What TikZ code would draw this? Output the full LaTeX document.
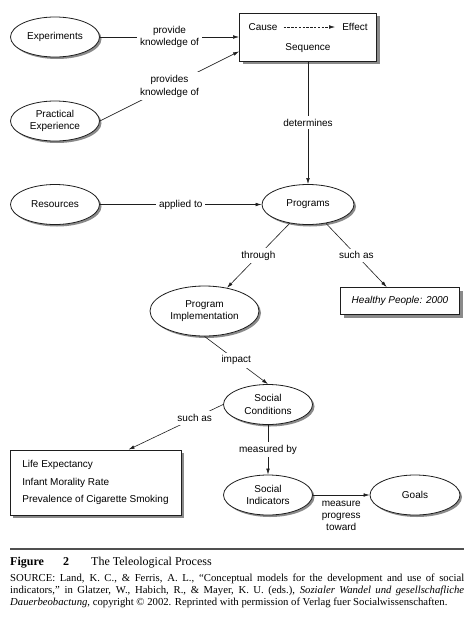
\documentclass[tikz,border=0pt]{standalone}
\usepackage{fontspec}
\setmainfont{Liberation Serif}
\setsansfont{Liberation Sans}
\usepackage{tikz}
\usetikzlibrary{arrows.meta, positioning, shapes.geometric, shadows}
\definecolor{CLine}{HTML}{1E1E1E}
\definecolor{CShadow}{HTML}{8A8A8A}
\definecolor{CRule}{HTML}{505050}

\begin{document}
\begin{tikzpicture}[
    x=1pt, y=-1pt,
    % Reusable styles for nodes and links
    concept/.style={ellipse, draw=CLine, line width=0.8pt, fill=white, inner sep=0pt,
        minimum width=89pt, minimum height=40pt, align=center,
        font=\sffamily\fontsize{10}{12.5}\selectfont,
        drop shadow={shadow xshift=2pt, shadow yshift=-2pt, fill=CShadow, opacity=1}},
    concept box/.style={rectangle, draw=CLine, line width=0.8pt, fill=white, inner sep=0pt,
        font=\sffamily\fontsize{10}{12.5}\selectfont,
        drop shadow={shadow xshift=3pt, shadow yshift=-3pt, fill=CShadow, opacity=1}},
    box text/.style={inner sep=1pt, font=\sffamily\fontsize{10}{12.5}\selectfont},
    link/.style={draw=CLine, line width=0.6pt, -{Latex[length=6pt, width=3.6pt]}},
    link label/.style={fill=white, inner sep=3pt, align=center,
        font=\sffamily\fontsize{10}{12.5}\selectfont}
]
    \useasboundingbox (0,0) rectangle (474,619);

    % -------------------------
    % Top: knowledge of the sequence
    % -------------------------
    \node[concept] (experiments) at (55,37) {Experiments};
    \node[concept] (practical) at (55,121) {Practical\\Experience};
    \node[concept box, minimum width=137pt, minimum height=48pt] (causebox) at (308,37) {};
    \node[box text] (cause) at (263,27) {Cause};
    \node[box text] (effect) at (355,27) {Effect};
    \node[box text, anchor=base] (sequence) at (308,50) {Sequence};
    \draw[link, dash pattern=on 2.4pt off 1.4pt, shorten <=5pt, shorten >=6pt] (cause) -- (effect);

    \draw[link] (experiments) -- node[link label] {provide\\knowledge of} (causebox);
    \draw[link] (practical.east) -- node[link label] {provides\\knowledge of} ([yshift=10pt]causebox.south west);

    % -------------------------
    % Middle: programs
    % -------------------------
    \node[concept] (resources) at (55,204.5) {Resources};
    \node[concept, minimum width=92pt] (programs) at (308,204.5) {Programs};
    \node[concept, minimum width=109pt, minimum height=50pt] (implementation) at (204.5,311) {Program\\Implementation};
    \node[concept box, minimum width=119pt, minimum height=27pt, font=\sffamily\itshape\fontsize{10}{12.5}\selectfont] (healthy) at (400,301) {Healthy People: 2000};

    \draw[link] (causebox) -- node[link label] {determines} (programs);
    \draw[link] (resources) -- node[link label] {applied to} (programs);
    \draw[link] (programs) -- node[link label] {through} (implementation);
    \draw[link] (programs) -- node[link label] {such as} (healthy);

    % -------------------------
    % Bottom: conditions and indicators
    % -------------------------
    \node[concept] (conditions) at (268,404.5) {Social\\Conditions};
    \node[concept box, minimum width=171pt, minimum height=65pt, align=left,
        font=\sffamily\fontsize{10}{17.5}\selectfont] (examples) at (95.5,482.5)
        {Life Expectancy\\Infant Morality Rate\\Prevalence of Cigarette Smoking};
    \node[concept] (indicators) at (268,495) {Social\\Indicators};
    \node[concept, minimum width=90pt] (goals) at (415,495) {Goals};

    \draw[link] (implementation.south) -- node[link label] {impact} (conditions.north);
    \draw[link] (conditions.west) -- node[link label, pos=0.3] {such as} ([xshift=33pt]examples.north);
    \draw[link] (conditions) -- node[link label] {measured by} (indicators);
    \draw[link] (indicators) -- node[below=5pt, align=center, inner sep=1pt,
        font=\sffamily\fontsize{10}{12}\selectfont] {measure\\progress\\toward} (goals);

    % -------------------------
    % Caption
    % -------------------------
    \draw[CRule, line width=1.2pt] (10,549) -- (464,549);
    \node[anchor=base west, inner sep=0pt, font=\bfseries\fontsize{12}{14}\selectfont] (figword) at (10,565) {Figure};
    \node[anchor=base west, inner sep=0pt, font=\bfseries\fontsize{12}{14}\selectfont] (fignum) at (63,565) {2};
    \node[anchor=base west, inner sep=0pt, font=\fontsize{12}{14}\selectfont] (figtitle) at (91,565) {The Teleological Process};
    \node[anchor=north west, inner sep=0pt, text width=454pt, align=justify,
        font=\fontsize{10.7}{12.2}\selectfont] (source) at (10,573.5)
        {\hyphenpenalty=10000\tolerance=9999 SOURCE: Land, K. C., \& Ferris, A. L., “Conceptual models for the development and use of social\linebreak
        indicators,” in Glatzer, W., Habich, R., \& Mayer, K. U. (eds.), \textit{Sozialer Wandel und gesellschafliche}\linebreak
        \textit{Dauerbeobactung}, copyright © 2002. Reprinted with permission of Verlag fuer Socialwissenschaften.};

\end{tikzpicture}
\end{document}
